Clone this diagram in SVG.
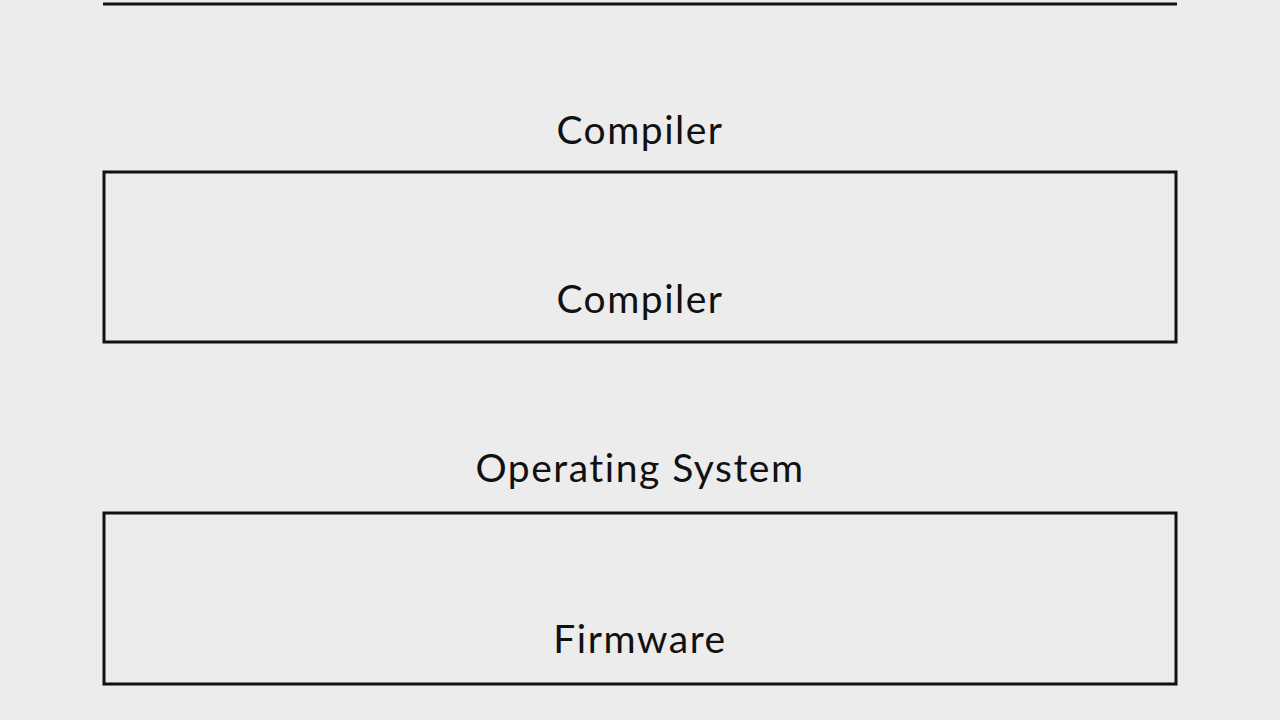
<svg xmlns="http://www.w3.org/2000/svg" width="1280" height="720" viewBox="0 0 1280 720">
<style>
.box{fill:none;stroke:#111;stroke-width:3}
.t{font-family:"Lato","Liberation Sans",sans-serif;font-size:39px;letter-spacing:1.5px;fill:#111;text-anchor:middle}
</style>
<rect width="1280" height="720" fill="#ececec"/>
<g id="top"><line x1="103" y1="4" x2="1177" y2="4" class="box"/></g>
<g id="lbl1"><text class="t" x="640" y="144">Compiler</text></g>
<g id="compiler"><rect class="box" x="104" y="172" width="1072" height="170"/><text class="t" x="640" y="313">Compiler</text></g>
<g id="lbl2"><text class="t" x="640" y="482">Operating System</text></g>
<g id="firmware"><rect class="box" x="104" y="513" width="1072" height="171"/><text class="t" x="640" y="653">Firmware</text></g>
<g id="connectors"></g>
</svg>
